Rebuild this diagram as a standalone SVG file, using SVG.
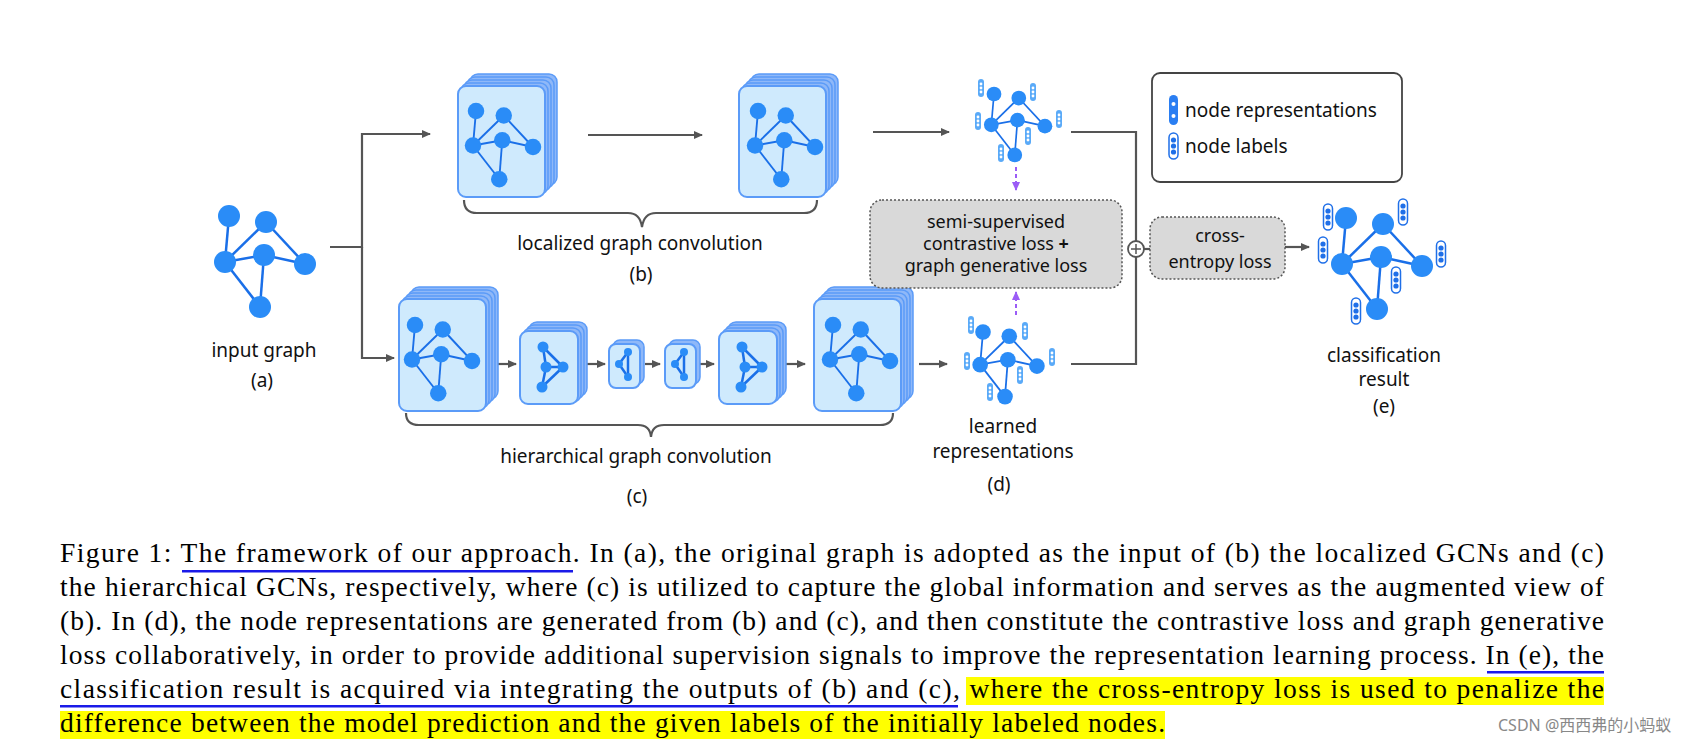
<svg xmlns="http://www.w3.org/2000/svg" xmlns:xlink="http://www.w3.org/1999/xlink" width="1702" height="749" viewBox="0 0 1702 749">
<style>
.lbl{font-family:"Noto Sans","Open Sans",sans-serif;font-size:19px;fill:#111;text-anchor:middle}
.bx{font-size:18px}
.cap{font-family:"Liberation Serif",serif;font-size:27.5px;fill:#000}
.conn{stroke:#555;stroke-width:2.2;fill:none}
.e{stroke:#1a6fe8;stroke-width:2.5}
.n{fill:#2a8cf7}
.card{fill:#cfeafd;stroke:#5b9bf8;stroke-width:2}
.back{fill:#8fb8f8;stroke:#5b9bf8;stroke-width:1.5}
.rep{fill:#5aaaf8}
.lab{fill:#fff;stroke:#1f6fe8;stroke-width:1.5}
</style>
<defs>
<marker id="ar" markerWidth="10" markerHeight="10" refX="8" refY="5" orient="auto" markerUnits="userSpaceOnUse"><path d="M0,1 L9,5 L0,9 z" fill="#555"/></marker>
<marker id="pa" markerWidth="10" markerHeight="10" refX="8" refY="5" orient="auto" markerUnits="userSpaceOnUse"><path d="M0,1 L9,5 L0,9 z" fill="#9b5cf6"/></marker>
<g id="gr">
<line class="e" x1="0" y1="0" x2="-4" y2="46"/><line class="e" x1="37" y1="6" x2="-4" y2="46"/><line class="e" x1="37" y1="6" x2="76" y2="48"/>
<line class="e" x1="-4" y1="46" x2="35" y2="39"/><line class="e" x1="35" y1="39" x2="76" y2="48"/><line class="e" x1="-4" y1="46" x2="31" y2="91"/><line class="e" x1="35" y1="39" x2="31" y2="91"/>
<circle class="n" cx="0" cy="0" r="11"/><circle class="n" cx="37" cy="6" r="11"/><circle class="n" cx="-4" cy="46" r="11"/><circle class="n" cx="35" cy="39" r="11"/><circle class="n" cx="76" cy="48" r="11"/><circle class="n" cx="31" cy="91" r="11"/>
</g>
<g id="rp"><rect class="rep" x="-3" y="-9" width="6" height="18" rx="3"/><circle cx="0" cy="-4" r="1.4" fill="#fff"/><circle cx="0" cy="0" r="1.4" fill="#fff"/><circle cx="0" cy="4" r="1.4" fill="#fff"/></g>
<g id="lp"><rect class="lab" x="-4.5" y="-13" width="9" height="26" rx="4.5"/><circle cx="0" cy="-6" r="2.6" fill="#1f6fe8"/><circle cx="0" cy="0" r="2.6" fill="#1f6fe8"/><circle cx="0" cy="6" r="2.6" fill="#1f6fe8"/></g>
<g id="sg"><line class="e" x1="0" y1="0" x2="3" y2="20"/><line class="e" x1="0" y1="0" x2="20" y2="20"/><line class="e" x1="3" y1="20" x2="20" y2="20"/><line class="e" x1="20" y1="20" x2="-1" y2="40"/><line class="e" x1="3" y1="20" x2="-1" y2="40"/>
<circle class="n" cx="0" cy="0" r="5.5"/><circle class="n" cx="3" cy="20" r="5.5"/><circle class="n" cx="20" cy="20" r="5.5"/><circle class="n" cx="-1" cy="40" r="5.5"/></g>
<g id="tg"><line class="e" x1="0" y1="0" x2="0" y2="25" stroke-width="1.8"/><line class="e" x1="0" y1="0" x2="-9" y2="12" stroke-width="1.8"/><line class="e" x1="-9" y1="12" x2="0" y2="25" stroke-width="1.8"/>
<circle class="n" cx="0" cy="0" r="4"/><circle class="n" cx="-9" cy="12" r="4"/><circle class="n" cx="0" cy="25" r="4"/></g>
</defs>

<g id="connectors">
<path class="conn" d="M330,247 H362 V134 H430" marker-end="url(#ar)"/>
<path class="conn" d="M362,247 V358 H394" marker-end="url(#ar)"/>
<path class="conn" d="M588,135 H702" marker-end="url(#ar)"/>
<path class="conn" d="M873,132 H949" marker-end="url(#ar)"/>
<path class="conn" d="M498,364 H516" marker-end="url(#ar)"/>
<path class="conn" d="M585,364 H605" marker-end="url(#ar)"/>
<path class="conn" d="M645,364 H660" marker-end="url(#ar)"/>
<path class="conn" d="M698,364 H714" marker-end="url(#ar)"/>
<path class="conn" d="M783,364 H805" marker-end="url(#ar)"/>
<path class="conn" d="M919,364 H947" marker-end="url(#ar)"/>
<path class="conn" d="M1071,132 H1136 V364 H1071"/>
<path class="conn" d="M1144,249 H1150"/>
<path class="conn" d="M1285,247 H1309" marker-end="url(#ar)"/>
<path d="M1016,167 V190" stroke="#9b5cf6" stroke-width="2" stroke-dasharray="4,3" marker-end="url(#pa)"/>
<path d="M1016,315 V292" stroke="#9b5cf6" stroke-width="2" stroke-dasharray="4,3" marker-end="url(#pa)"/>
<circle cx="1136" cy="249" r="8" fill="#fff" stroke="#555" stroke-width="1.8"/>
<path d="M1131,249 H1141 M1136,244 V254" stroke="#555" stroke-width="1.5"/>
<path class="conn" d="M464,200 q0,13 13,13 H628 q12,0 14,14 q2,-14 14,-14 H804 q13,0 13,-13" stroke-width="2"/>
<path class="conn" d="M406,413 q0,12 13,12 H638 q12,0 13,12 q1,-12 13,-12 H880 q13,0 13,-12" stroke-width="2"/>
</g>

<g id="input-graph"><use href="#gr" x="229" y="216"/>
<text class="lbl" x="264" y="357">input graph</text><text class="lbl" x="262" y="387">(a)</text></g>

<g id="card-b1"><rect class="back" x="470" y="74" width="87" height="111" rx="8"/><rect class="back" x="467" y="77" width="87" height="111" rx="8"/><rect class="back" x="464" y="80" width="87" height="111" rx="8"/><rect class="back" x="461" y="83" width="87" height="111" rx="8"/><rect class="card" x="458" y="86" width="87" height="111" rx="8"/><use href="#gr" transform="translate(476,111) scale(0.75)"/></g>
<g id="card-b2"><rect class="back" x="751" y="74" width="87" height="111" rx="8"/><rect class="back" x="748" y="77" width="87" height="111" rx="8"/><rect class="back" x="745" y="80" width="87" height="111" rx="8"/><rect class="back" x="742" y="83" width="87" height="111" rx="8"/><rect class="card" x="739" y="86" width="87" height="111" rx="8"/><use href="#gr" transform="translate(758,111) scale(0.75)"/></g>
<g id="label-b"><text class="lbl" x="640" y="250">localized graph convolution</text><text class="lbl" x="641" y="281">(b)</text></g>

<g id="card-c1"><rect class="back" x="411" y="287" width="87" height="112" rx="8"/><rect class="back" x="408" y="290" width="87" height="112" rx="8"/><rect class="back" x="405" y="293" width="87" height="112" rx="8"/><rect class="back" x="402" y="296" width="87" height="112" rx="8"/><rect class="card" x="399" y="299" width="87" height="112" rx="8"/><use href="#gr" transform="translate(415,325) scale(0.75)"/></g>
<g id="card-c2"><rect class="back" x="529" y="322" width="58" height="74" rx="8"/><rect class="back" x="526" y="325" width="58" height="74" rx="8"/><rect class="back" x="523" y="328" width="58" height="74" rx="8"/><rect class="card" x="520" y="331" width="58" height="73" rx="8"/><use href="#sg" x="543" y="347"/></g>
<g id="card-c3"><rect class="back" x="613" y="340" width="31" height="44" rx="7"/><rect class="card" x="609" y="344" width="31" height="44" rx="7"/><use href="#tg" x="628" y="352"/></g>
<g id="card-c4"><rect class="back" x="669" y="340" width="31" height="44" rx="7"/><rect class="card" x="665" y="344" width="31" height="44" rx="7"/><use href="#tg" x="684" y="352"/></g>
<g id="card-c5"><rect class="back" x="728" y="322" width="58" height="74" rx="8"/><rect class="back" x="725" y="325" width="58" height="74" rx="8"/><rect class="back" x="722" y="328" width="58" height="74" rx="8"/><rect class="card" x="719" y="331" width="58" height="73" rx="8"/><use href="#sg" x="742" y="347"/></g>
<g id="card-c6"><rect class="back" x="826" y="287" width="87" height="112" rx="8"/><rect class="back" x="823" y="290" width="87" height="112" rx="8"/><rect class="back" x="820" y="293" width="87" height="112" rx="8"/><rect class="back" x="817" y="296" width="87" height="112" rx="8"/><rect class="card" x="814" y="299" width="87" height="112" rx="8"/><use href="#gr" transform="translate(833,325) scale(0.75)"/></g>
<g id="label-c"><text class="lbl" x="636" y="463">hierarchical graph convolution</text><text class="lbl" x="637" y="503">(c)</text></g>

<g id="rep-top"><use href="#gr" transform="translate(994,94) scale(0.67)"/>
<use href="#rp" x="981" y="88"/><use href="#rp" x="1033" y="92"/><use href="#rp" x="978" y="121"/><use href="#rp" x="1059" y="119"/><use href="#rp" x="1028" y="136"/><use href="#rp" x="1001" y="153"/></g>
<g id="rep-bottom"><use href="#gr" transform="translate(983,332) scale(0.71)"/>
<use href="#rp" x="971" y="325"/><use href="#rp" x="1025" y="331"/><use href="#rp" x="967" y="361"/><use href="#rp" x="1052" y="357"/><use href="#rp" x="1020" y="375"/><use href="#rp" x="990" y="392"/>
<text class="lbl" x="1003" y="433">learned</text><text class="lbl" x="1003" y="458">representations</text><text class="lbl" x="999" y="491">(d)</text></g>

<g id="loss-box"><rect x="870" y="200" width="252" height="88" rx="12" fill="#d9d9d9" stroke="#555" stroke-width="1.5" stroke-dasharray="2,2"/>
<text class="lbl bx" x="996" y="228">semi-supervised</text><text class="lbl bx" x="996" y="250">contrastive loss <tspan font-weight="bold">+</tspan></text><text class="lbl bx" x="996" y="272">graph generative loss</text></g>

<g id="ce-box"><rect x="1150" y="217" width="135" height="62" rx="12" fill="#d9d9d9" stroke="#555" stroke-width="1.5" stroke-dasharray="2,2"/>
<text class="lbl bx" x="1220" y="242">cross-</text><text class="lbl bx" x="1220" y="268">entropy loss</text></g>

<g id="legend"><rect x="1152" y="73" width="250" height="109" rx="8" fill="#fff" stroke="#444" stroke-width="1.8"/>
<rect x="1169" y="95" width="9" height="30" rx="4.5" fill="#2a7ef2"/><circle cx="1173.5" cy="104" r="2" fill="#fff"/><circle cx="1173.5" cy="116" r="2" fill="#fff"/>
<use href="#lp" x="1173.5" y="146"/>
<text class="lbl" x="1185" y="117" style="text-anchor:start">node representations</text><text class="lbl" x="1185" y="153" style="text-anchor:start">node labels</text></g>

<g id="result"><use href="#gr" x="1346" y="218"/>
<use href="#lp" x="1328" y="217"/><use href="#lp" x="1403" y="212"/><use href="#lp" x="1323" y="250"/><use href="#lp" x="1441" y="254"/><use href="#lp" x="1396" y="280"/><use href="#lp" x="1356" y="311"/>
<text class="lbl" x="1384" y="362">classification</text><text class="lbl" x="1384" y="386">result</text><text class="lbl" x="1384" y="413">(e)</text></g>

<g id="caption">
<rect x="966" y="677" width="638" height="28" fill="#ffff00"/><rect x="60" y="711" width="1105" height="28" fill="#ffff00"/>
<rect x="182" y="570" width="391" height="2.5" fill="#1a1ae8"/><rect x="1487" y="671" width="117" height="2.5" fill="#1a1ae8"/><rect x="60" y="705" width="898" height="2.5" fill="#1a1ae8"/>
<text class="cap" x="60" y="562" textLength="1544" lengthAdjust="spacing">Figure 1: The framework of our approach. In (a), the original graph is adopted as the input of (b) the localized GCNs and (c)</text>
<text class="cap" x="60" y="596" textLength="1544" lengthAdjust="spacing">the hierarchical GCNs, respectively, where (c) is utilized to capture the global information and serves as the augmented view of</text>
<text class="cap" x="60" y="630" textLength="1544" lengthAdjust="spacing">(b). In (d), the node representations are generated from (b) and (c), and then constitute the contrastive loss and graph generative</text>
<text class="cap" x="60" y="664" textLength="1544" lengthAdjust="spacing">loss collaboratively, in order to provide additional supervision signals to improve the representation learning process. In (e), the</text>
<text class="cap" x="60" y="698" textLength="1544" lengthAdjust="spacing">classification result is acquired via integrating the outputs of (b) and (c), where the cross-entropy loss is used to penalize the</text>
<text class="cap" x="60" y="732" textLength="1105" lengthAdjust="spacing">difference between the model prediction and the given labels of the initially labeled nodes.</text>
<text x="1498" y="731" font-family="'Noto Sans','Noto Sans CJK SC',sans-serif" font-size="16" fill="#888">CSDN @西西弗的小蚂蚁</text>
</g>
</svg>
